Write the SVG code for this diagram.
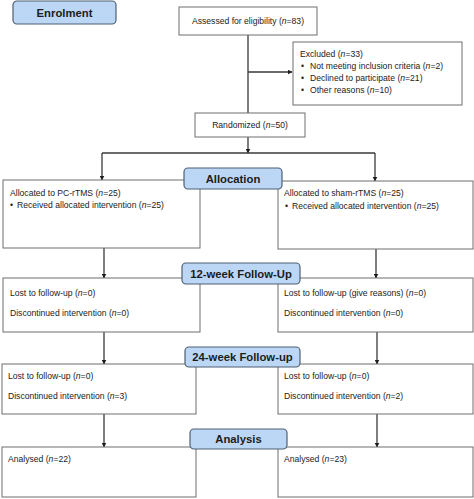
<svg xmlns="http://www.w3.org/2000/svg" width="474" height="499" viewBox="0 0 474 499">
<style>
.box{fill:#fff;stroke:#6e6e6e;stroke-width:1}
.hdr{fill:#bcd7f6;stroke:#4f5f72;stroke-width:1.2}
.t{font-family:"Liberation Sans",Arial,sans-serif;font-size:8.6px;fill:#222}
.h{font-family:"Liberation Sans",Arial,sans-serif;font-size:11.3px;font-weight:bold;fill:#1c1c1c;text-anchor:middle}
.c{text-anchor:middle}
.ln{fill:none;stroke:#3a3a3a;stroke-width:1.3}
</style>
<defs>
<marker id="ah" markerWidth="5" markerHeight="5" refX="4.5" refY="2.5" orient="auto" markerUnits="userSpaceOnUse">
<path d="M0,0 L5,2.5 L0,5 Z" fill="#1e1e1e"/>
</marker>
</defs>
<rect width="474" height="499" fill="#fff"/>
<g id="connectors">
<path class="ln" d="M248,35 V113"/>
<path class="ln" d="M248,72 H292" marker-end="url(#ah)"/>
<path class="ln" d="M248,137 V153" marker-end="url(#ah)"/>
<path class="ln" d="M102,153 H375"/>
<path class="ln" d="M102,153 V180" marker-end="url(#ah)"/>
<path class="ln" d="M375,153 V181" marker-end="url(#ah)"/>
<path class="ln" d="M104,248 V278" marker-end="url(#ah)"/>
<path class="ln" d="M376,249 V278" marker-end="url(#ah)"/>
<path class="ln" d="M104,332 V364" marker-end="url(#ah)"/>
<path class="ln" d="M377,332 V364" marker-end="url(#ah)"/>
<path class="ln" d="M104,414 V447" marker-end="url(#ah)"/>
<path class="ln" d="M377,414 V447" marker-end="url(#ah)"/>
</g>
<g id="enrolment"><rect class="hdr" x="13" y="1" width="103" height="23" rx="4"/><text class="h" x="64.5" y="16.5">Enrolment</text></g>
<g id="assessed"><rect class="box" x="179" y="7" width="138" height="28"/><text class="t c" x="248" y="24">Assessed for eligibility (<tspan font-style="italic">n</tspan>=83)</text></g>
<g id="excluded"><rect class="box" x="293" y="42" width="169" height="63"/>
<text class="t" x="300" y="57">Excluded (<tspan font-style="italic">n</tspan>=33)</text>
<text class="t" x="301" y="69">•</text><text class="t" x="310" y="69">Not meeting inclusion criteria (<tspan font-style="italic">n</tspan>=2)</text>
<text class="t" x="301" y="81">•</text><text class="t" x="310" y="81">Declined to participate (<tspan font-style="italic">n</tspan>=21)</text>
<text class="t" x="301" y="93">•</text><text class="t" x="310" y="93">Other reasons (<tspan font-style="italic">n</tspan>=10)</text>
</g>
<g id="randomized"><rect class="box" x="195" y="113" width="110" height="24"/><text class="t c" x="250" y="128">Randomized (<tspan font-style="italic">n</tspan>=50)</text></g>
<g id="alloc-left"><rect class="box" x="3" y="180" width="197" height="68"/>
<text class="t" x="10" y="196">Allocated to PC-rTMS (<tspan font-style="italic">n</tspan>=25)</text>
<text class="t" x="10" y="208">•</text><text class="t" x="17" y="208">Received allocated intervention (<tspan font-style="italic">n</tspan>=25)</text>
</g>
<g id="alloc-right"><rect class="box" x="278" y="181" width="195" height="68"/>
<text class="t" x="284" y="196">Allocated to sham-rTMS (<tspan font-style="italic">n</tspan>=25)</text>
<text class="t" x="285" y="209">•</text><text class="t" x="292" y="209">Received allocated intervention (<tspan font-style="italic">n</tspan>=25)</text>
</g>
<g id="allocation"><rect class="hdr" x="184" y="168" width="98" height="21" rx="4"/><text class="h" x="233" y="182.5">Allocation</text></g>
<g id="fu12-left"><rect class="box" x="3" y="278" width="197" height="54"/>
<text class="t" x="10" y="296">Lost to follow-up (<tspan font-style="italic">n</tspan>=0)</text>
<text class="t" x="10" y="316">Discontinued intervention (<tspan font-style="italic">n</tspan>=0)</text>
</g>
<g id="fu12-right"><rect class="box" x="278" y="278" width="195" height="54"/>
<text class="t" x="284" y="296">Lost to follow-up (give reasons) (<tspan font-style="italic">n</tspan>=0)</text>
<text class="t" x="284" y="316">Discontinued intervention (<tspan font-style="italic">n</tspan>=0)</text>
</g>
<g id="fu12"><rect class="hdr" x="182" y="263" width="118" height="21" rx="4"/><text class="h" x="241" y="277.5">12-week Follow-Up</text></g>
<g id="fu24-left"><rect class="box" x="2" y="364" width="194" height="50"/>
<text class="t" x="8" y="379">Lost to follow-up (<tspan font-style="italic">n</tspan>=0)</text>
<text class="t" x="8" y="399">Discontinued intervention (<tspan font-style="italic">n</tspan>=3)</text>
</g>
<g id="fu24-right"><rect class="box" x="278" y="364" width="195" height="50"/>
<text class="t" x="284" y="379">Lost to follow-up (<tspan font-style="italic">n</tspan>=0)</text>
<text class="t" x="284" y="399">Discontinued intervention (<tspan font-style="italic">n</tspan>=2)</text>
</g>
<g id="fu24"><rect class="hdr" x="185" y="347" width="115" height="20" rx="4"/><text class="h" x="242.5" y="361">24-week Follow-up</text></g>
<g id="an-left"><rect class="box" x="2" y="447" width="194" height="50"/>
<text class="t" x="8" y="462">Analysed (<tspan font-style="italic">n</tspan>=22)</text>
</g>
<g id="an-right"><rect class="box" x="278" y="447" width="195" height="50"/>
<text class="t" x="284" y="462">Analysed (<tspan font-style="italic">n</tspan>=23)</text>
</g>
<g id="analysis"><rect class="hdr" x="190" y="429" width="97" height="20" rx="4"/><text class="h" x="238.5" y="443">Analysis</text></g>
</svg>
